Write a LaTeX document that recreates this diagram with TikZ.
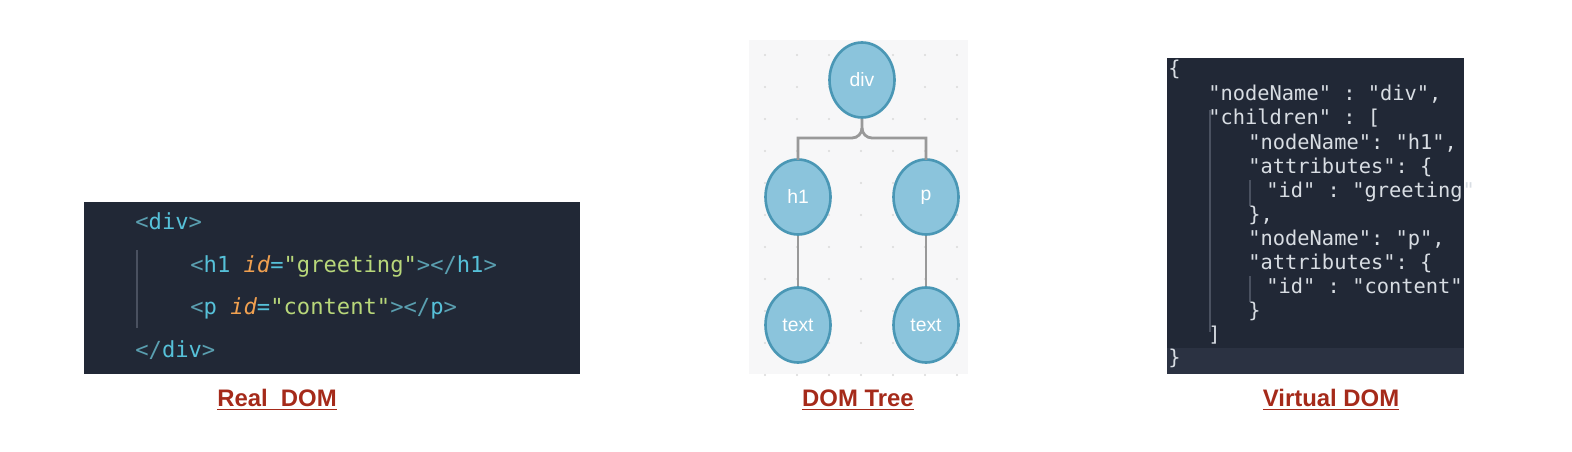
\documentclass[tikz,border=0pt]{standalone}
\usepackage{fontspec}
\setmainfont{Liberation Sans}
\setmonofont{DejaVu Sans Mono}
\usetikzlibrary{positioning,shapes.geometric}
\definecolor{panel}{HTML}{212836}
\definecolor{panelhi}{HTML}{2B3242}
\definecolor{tagc}{HTML}{56C1D9}
\definecolor{brkc}{HTML}{5A9FB0}
\definecolor{attc}{HTML}{F0A050}
\definecolor{strc}{HTML}{B8D77A}
\definecolor{jsonc}{HTML}{D8DDE3}
\definecolor{guide}{HTML}{4A5160}
\definecolor{treebg}{HTML}{F7F7F8}
\definecolor{nodefill}{HTML}{8BC4DC}
\definecolor{nodeline}{HTML}{4A97B5}
\definecolor{caption}{HTML}{A52A1A}
\begin{document}
\begin{tikzpicture}[x=0.02cm,y=-0.02cm,
  html line/.style={anchor=base west,inner sep=0pt,font=\ttfamily\fontsize{12.6}{14}\selectfont},
  json line/.style={anchor=base west,inner sep=0pt,text=jsonc,font=\ttfamily\fontsize{11.6}{13}\selectfont},
  tree node/.style={ellipse,draw=nodeline,line width=1.5pt,fill=nodefill,text=white,font=\fontsize{11}{13}\selectfont,minimum width=1.3cm,minimum height=1.5cm,inner sep=0pt},
  edge line/.style={draw=gray!80,line width=1.6pt},
  title/.style={text=caption,font=\bfseries\fontsize{13.6}{16}\selectfont}]
  \useasboundingbox (0,0) rectangle (1572,452);
  % real DOM panel
  \fill[panel] (84,202) rectangle (580,374);
  \draw[guide,line width=1pt] (137,250) -- (137,328);
  \node[html line] (l1) at (135,230) {\color{brkc}<\color{tagc}div\color{brkc}>};
  \node[html line] (l2) at (190,273) {\color{brkc}<\color{tagc}h1 \color{attc}\itshape id\upshape\color{tagc}=\color{strc}"greeting"\color{brkc}></\color{tagc}h1\color{brkc}>};
  \node[html line] (l3) at (190,315) {\color{brkc}<\color{tagc}p \color{attc}\itshape id\upshape\color{tagc}=\color{strc}"content"\color{brkc}></\color{tagc}p\color{brkc}>};
  \node[html line] (l4) at (135,358) {\color{brkc}</\color{tagc}div\color{brkc}>};
  % DOM tree panel
  \fill[treebg] (749,40) rectangle (968,374);
  \foreach \i in {0,...,6}
    \foreach \j in {0,...,10}
      \fill[gray!30] (765+\i*32,55+\j*32) circle (1.2);
  \node[tree node] (div) at (862,80) {div};
  \node[tree node] (h1) at (798,197) {h1};
  \node[tree node] (p) at (926,197) {p};
  \node[tree node] (t1) at (798,325) {text};
  \node[tree node] (t2) at (926,325) {text};
  \coordinate (fork) at (862,128);
  \path[edge line] (div) -- (fork) to[out=-90,in=0] ++(-10,10) -| ([yshift=-1pt]h1.north);
  \path[edge line] (fork) to[out=-90,in=180] ++(10,10) -| ([yshift=-1pt]p.north);
  \path[edge line] (h1) -- (t1);
  \path[edge line] (p) -- (t2);
  % virtual DOM panel
  \fill[panel] (1167,58) rectangle (1464,374);
  \fill[panelhi] (1167,348) rectangle (1464,374);
  \draw[guide,line width=1pt] (1210,110) -- (1210,332);
  \draw[guide,line width=1pt] (1250,180) -- (1250,206);
  \draw[guide,line width=1pt] (1250,276) -- (1250,302);
  \node[json line] (j1) at (1168,76) {\{};
  \node[json line] (j2) at (1208,101) {"nodeName" : "div",};
  \node[json line] (j3) at (1208,125) {"children" : [};
  \node[json line] (j4) at (1248,150) {"nodeName": "h1",};
  \node[json line] (j5) at (1248,174) {"attributes": \{};
  \node[json line] (j6) at (1266,198) {"id" : "greeting"};
  \node[json line] (j7) at (1248,222) {\},};
  \node[json line] (j8) at (1248,246) {"nodeName": "p",};
  \node[json line] (j9) at (1248,270) {"attributes": \{};
  \node[json line] (j10) at (1266,294) {"id" : "content"};
  \node[json line] (j11) at (1248,318) {\}};
  \node[json line] (j12) at (1208,342) {]};
  \node[json line] (j13) at (1168,365) {\}};
  % captions
  \node[title] (real) at (277,400) {\underline{Real\ \ DOM}};
  \node[title] (tree) at (858,400) {\underline{DOM Tree}};
  \node[title] (virtual) at (1331,400) {\underline{Virtual DOM}};
\end{tikzpicture}
\end{document}
